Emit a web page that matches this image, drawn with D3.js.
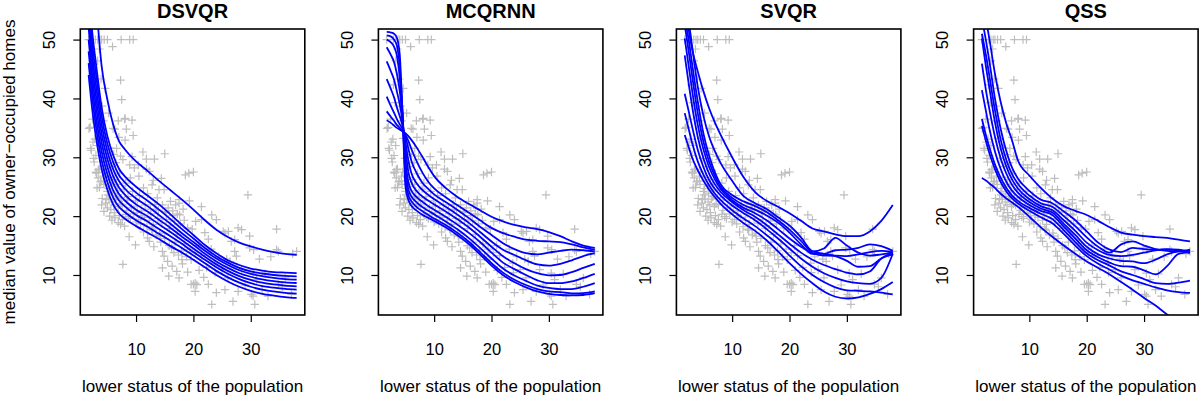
<!DOCTYPE html>
<html><head><meta charset="utf-8">
<script src="https://cdn.jsdelivr.net/npm/d3@7"></script>
<style>body{margin:0;background:#fff}svg{display:block}text{font-family:"Liberation Sans",Arial,Helvetica,sans-serif;fill:#000}</style>
</head><body><svg id="c" width="1200" height="399"></svg>
<script>
// ---------- data ----------
const panelTitles = ["DSVQR", "MCQRNN", "SVQR", "QSS"];
const xTicks = [10, 20, 30];
const yTicks = [10, 20, 30, 40, 50];
const xLabel = "lower status of the population";
const yLabel = "median value of owner\u2212occupied homes";

const scatterLstat = [1.73,2.9,3.3,3.7,4.0,4.45,5.0,7.4,8.9,9.5,5.9,3.6,7.3,7.5,3.3,3.9,4.6,2.9,4.1,3.2,5.2,
2.4,1.8,2.0,2.8,3.3,3.0,2.7,3.6,4.3,4.6,5.5,4.9,5.6,6.3,6.0,6.9,8.0,8.1,9.3,8.3,9.5,8.1,7.0,6.6,7.3,6.1,5.3,4.5,6.5,7.7,8.9,9.7,10.4,9.3,11.2,11.8,13.2,15.0,11.8,12.3,10.5,9.0,8.2,7.1,6.2,
3.6,4.1,4.7,4.8,5.6,5.1,5.9,6.4,6.8,7.4,7.9,8.6,9.4,9.9,10.6,11.3,12.0,12.8,13.7,14.0,14.9,14.4,13.0,16.0,16.9,17.5,17.5,18.6,19.2,20.0,19.3,18.2,17.2,15.6,14.6,13.3,12.5,11.6,10.9,10.2,9.2,8.4,7.6,6.9,6.2,5.4,7.1,7.6,8.0,8.8,9.9,7.7,
9.0,10.0,10.8,11.5,12.3,13.0,13.8,14.5,15.3,15.9,16.7,17.7,18.4,19.0,19.8,20.4,12.0,12.3,13.1,11.3,14.1,14.6,14.9,15.5,16.3,14.6,15.7,17.5,16.2,16.8,17.2,17.9,18.5,18.8,19.4,19.6,20.3,20.9,21.4,
21.4,21.4,23.2,24.0,22.0,22.6,23.1,23.7,24.4,25.2,25.5,26.1,26.6,27.2,28.4,27.8,29.8,29.8,30.5,27.2,27.5,25.8,26.4,28.4,30.4,31.0,29.5,34.5,34.8,34.5,38.0,37.3,34.8,
20.0,20.3,20.6,20.3,19.6,22.6,21.8,24.0,25.5,27.8,30.1,30.4,33.0,37.1,23.2,26.9,30.7,32.0,35.5,29.0,26.0,23.8,22.3,18.1,19.0,17.1,18.0,21.0,25.0,32.5,31.5,33.5,36.0,
3.1,3.8,4.3,5.0,5.7,6.6,2.2,2.6,3.4,4.4,5.2,6.7,7.2,8.4,10.2,11.0,12.6,13.5,15.1,16.4,17.6,15.8,14.2,12.9,
2.1,2.5,3.0,3.4,3.9,4.3,4.0,4.4,5.0,5.3,5.8,6.1,6.6,6.3,5.8,6.9,7.3,8.2,8.7,9.6,10.4,11.0,11.9,12.7,13.5,14.3,15.0,15.8,16.6,17.4,13.9,15.2,16.4,3.2];
const scatterMedv = [50,50,50,50,50,50,50,50,50,50,48.8,48.4,43.1,39.8,46.4,43.3,41.7,42.3,38.7,39.3,37.5,
36.5,34.9,35.1,33.1,32,30.3,29.2,28,36.2,33.2,31.6,29.8,28.4,34.8,34.9,36.2,36.5,36.6,36.3,34.8,33.7,32.9,33.4,31.5,30.2,30.5,26.6,27.5,29.1,29.6,28.7,28.2,28.7,30.1,30.9,29.7,29.7,30.6,28,27.6,26.8,26.5,25.6,27.2,26.2,
24.9,23,22.2,22.8,21.1,23.6,23.9,22.9,24.3,23.1,24.6,23.3,24.2,22.6,23.5,24.8,23.8,25.3,23.1,24.5,24.5,26.4,26.1,22.5,21.9,22.8,22.2,27,27.3,27.5,22.6,21.2,20.4,21.4,21.9,22,21.2,21.9,20.9,21.7,21.4,21,21.9,21.6,20.6,20,20.1,19.4,18.3,16.5,15.1,11.8,
19.6,19,18.7,19.8,19.3,18.6,19.6,18.8,19.4,18.4,19.2,18.7,19.3,18,17.8,19.1,16.3,15.7,14.8,17.3,17.1,14,13.2,12.3,11.5,11.2,9.8,9.5,14.6,15.6,16.9,14.1,15.3,13.1,14.4,12.6,13.8,15,13.3,
21.6,19.4,20.2,19.4,17.2,16.1,14.4,12,13.1,17.4,17.1,17.4,15.7,16,17.7,18,16.6,14.6,14.3,14,13.2,12.7,12.3,10.9,10.3,9.2,23.6,17.8,14,14.3,14,13.6,8.4,
8.4,8.6,8.35,7.2,8.4,8.4,9.6,7,7.5,7.2,6.7,6.4,6.4,6.7,5,5.5,5,7.5,8,8.3,9.5,10.4,11.3,11.9,10.5,10.6,12.6,10.8,10.9,10.2,12.7,13.1,9.5,
27.3,25.8,26,24.2,25.1,25.4,31.2,29.8,27.9,25.4,24.7,23.4,22.1,22.7,20.6,20.1,20.4,21.1,20.8,20.9,20.2,17.9,16.6,17.6,
31.5,32.6,27.5,26.5,25.9,26.8,21.9,20.8,21.4,22.9,22.4,21.9,23.3,19.7,19.3,18.9,18.6,20.3,19.9,20.4,19.4,20.1,18.2,17.8,16.8,15.6,16.2,15,13.8,13.4,21,20.6,20.1,24.8];

// DSVQR
const gridDSVQR = [1.73,2.5,3,4,5,6,7,8,10,12,14,16,18,20,22,24,26,28,30,32,34,36,38];
const curvesDSVQR = [
 [44,37,33.5,28,24.5,22,20.5,19.6,18.3,17.2,16.1,14.9,13.8,12.6,11.3,10,8.9,8,7.3,6.8,6.5,6.25,6.1],
 [46,39,35.3,29.5,25.8,23.2,21.6,20.7,19.3,18.2,17,15.8,14.6,13.3,12,10.7,9.6,8.7,8,7.5,7.2,6.95,6.83],
 [48,40.8,37,31,27.1,24.4,22.7,21.7,20.2,19.1,17.8,16.6,15.3,13.9,12.6,11.3,10.2,9.3,8.6,8.1,7.85,7.65,7.51],
 [50,42.6,38.8,32.5,28.4,25.6,23.8,22.7,21.1,20,18.6,17.3,15.9,14.5,13.1,11.8,10.7,9.8,9.15,8.7,8.4,8.2,8.07],
 [52,44.4,40.5,34,29.7,26.8,24.9,23.7,22,20.8,19.4,18,16.5,15.1,13.6,12.3,11.2,10.3,9.7,9.25,8.95,8.75,8.64],
 [54,46.2,42.3,35.5,31,28,26,24.7,23,21.7,20.2,18.7,17.1,15.6,14.1,12.8,11.7,10.8,10.2,9.8,9.5,9.3,9.2],
 [56,48,44.2,37,32.3,29.2,27,25.8,24,22.6,21.1,19.5,17.8,16.2,14.6,13.2,12.1,11.2,10.6,10.25,10,9.85,9.77],
 [58,50,46,38.5,33.6,30.4,28.1,26.8,25,23.5,22,20.3,18.5,16.8,15.1,13.7,12.5,11.7,11.1,10.75,10.5,10.4,10.3],
 [75,64,57,45.5,39.8,35.6,32.8,31.4,29.3,27.7,26.0,24.4,22.8,21.1,19.3,17.7,16.45,15.5,14.85,14.3,13.9,13.6,13.4]
];
// MCQRNN
const gridMCQRNN = [1.73,2.5,3,3.5,4,4.5,5,5.5,6,7,8,9,10,12,14,16,18,20,22,24,26,28,30,32,34,36,38];
const curvesMCQRNN = [
 [51.3,51.2,51.0,50.3,47.5,37,25,22.8,21.8,20.9,20.2,19.7,19.2,18.1,16.8,15.3,13.5,11.6,10.0,8.8,7.9,7.2,6.8,6.6,6.55,6.6,6.9],
 [50.7,50.5,50.0,49.0,45.5,37.5,26.5,23.6,22.6,21.5,20.8,20.2,19.6,18.5,17.2,15.7,13.9,12.0,10.4,9.2,8.3,7.6,7.2,7.1,6.85,6.9,7.2],
 [50.0,49.5,48.8,47.3,43.5,37,28,24.6,23.4,22.3,21.5,20.9,20.3,19.1,17.8,16.3,14.6,12.8,11.1,9.9,9.0,8.2,7.8,7.6,7.6,8.0,8.6],
 [48.7,47.3,46.2,44.2,41.3,36.5,29.5,25.8,24.4,23.2,22.4,21.7,21.1,19.9,18.6,17.2,15.6,13.8,12.1,11.0,10.0,9.1,8.6,8.6,8.9,9.5,10.2],
 [46.3,44.5,43.2,41.2,39,36,31.3,27.5,25.8,24.2,23.3,22.6,22.0,20.8,19.5,18.1,16.5,14.8,13.2,12.0,11.0,10.3,9.95,10.0,10.5,11.2,11.9],
 [43.3,41.5,40.2,38.5,37,35.3,32.5,29.5,27.4,25.5,24.4,23.6,22.9,21.6,20.3,18.9,17.3,15.7,14.3,13.4,12.5,11.8,11.6,11.9,12.5,13.2,13.7],
 [40.3,38.6,37.6,36.5,35.6,34.8,33.5,31.5,29.5,27.2,25.6,24.6,23.7,22.4,21.1,19.7,18.2,16.8,15.4,14.4,13.7,13.5,13.8,14.1,14.3,14.2,14.0],
 [37.8,36.8,36.2,35.5,35,34.5,33.8,32.8,31.5,29.2,27.3,25.8,24.7,23.2,21.9,20.6,19.3,18.0,17.1,16.5,16.0,15.8,15.7,15.6,15.2,14.7,14.3],
 [36.3,35.8,35.4,35,34.7,34.4,34.1,33.6,33,31.6,30,28.3,26.8,24.8,23.3,22.1,21,19.9,19.1,18.5,18.1,17.8,17.3,16.6,15.7,15.0,14.6]
];
// SVQR
const gridSVQR = [1.73,2.5,3,4,5,6,7,8,10,12,14,16,18,20,22,24,26,28,30,32,34,36,38];
const curvesSVQR = [
 [33.8,31.5,30,27.8,26,24.5,23.2,22.1,20.3,18.8,17.5,15.9,14,12,10.2,8.6,7.2,6.3,6.0,6.2,6.8,7.6,8.8],
 [37.5,34.5,32.5,29.3,27,25.2,23.8,22.7,21,19.6,18.3,16.8,15.2,13.3,11.5,10,8.8,7.9,7.4,7.3,7.2,7.0,6.7],
 [40.8,37.5,35.3,31.3,28.3,26.1,24.6,23.5,21.8,20.5,19.3,17.8,16.2,14.5,12.8,11.4,10.3,9.5,8.9,8.6,8.5,9.5,13.6],
 [47.3,42,38.8,33.5,29.8,27.2,25.4,24.1,22.4,21,19.9,18.5,16.9,15.3,13.8,12.6,11.7,11.0,10.4,10.1,10.6,12.8,13.7],
 [50.2,45,41.5,35.5,31.3,28.3,26.2,24.6,22.7,21.4,20.5,19.3,17.8,16.2,14.8,13.7,13.3,13.3,13.2,13.5,13.9,14.1,13.9],
 [52.5,47.5,44,37.5,32.6,29.2,26.8,25,23.1,21.9,21.1,20.1,18.9,17.2,15.2,13.6,13.6,14.2,14.3,14.6,15.2,14.9,14.1],
 [53.5,49.5,46,39.5,34,30.2,27.4,25.4,23.6,22.5,21.7,20.7,19.3,17.7,15.8,14,14.5,16.3,15.0,13.8,13.3,13.5,13.8],
 [54.5,52.5,49,42,37,33.5,31,29,26,23.4,22.2,21.2,19.8,18.4,16.4,14.0,13.6,13.2,12.4,11.4,11.5,12.8,13.5],
 [57,51.2,48.5,44.6,41.2,38.3,35.9,33.8,30,26.6,24.1,22.6,21.6,20.5,19.2,17.9,17.4,16.9,16.6,16.6,17.4,19.2,21.9]
];
// QSS
const gridQSS = [1.73,2.5,3,4,5,6,7,8,10,12,14,16,18,20,22,24,26,28,30,32,34,36,38];
const curvesQSS = [
 [26.5,26,25.6,24.8,23.8,23,22.3,21.6,19.9,18.1,16.5,15,13.6,12.3,11.2,10.1,8.8,7.5,6.1,4.8,3.3,1.9,0.5],
 [35.3,32.5,30.8,28,25.8,24.2,23,22.2,20.9,19.8,18.8,17,15,13.2,11.9,10.9,9.9,9.1,8.5,7.9,7.4,7.1,6.95],
 [36.5,33.5,31.8,28.8,26.5,24.8,23.5,22.6,21.4,20.4,19.5,17.6,15.6,13.7,12.5,11.6,10.6,10,9.3,8.6,8.5,8.7,9.05],
 [41.4,37.5,35,31,28,25.8,24.3,23.3,21.9,20.9,20.2,18.2,16.2,14.2,13,12.1,11.5,11.4,10.8,10.1,11.5,13.6,13.9],
 [45.9,41,38.3,33.5,29.8,27.2,25.3,24,22.4,21.3,20.6,18.7,16.8,14.8,13.5,12.8,12.4,12.3,12,12.6,13.5,14,14.1],
 [50.2,45,42,36,31.5,28.4,26.2,24.7,22.9,21.7,21,19.3,17.5,15.5,14.2,13.4,13.2,13.4,13.8,14.2,14.4,14.3,14],
 [51,47,44,38,33,29.5,27.1,25.5,23.5,22.2,21.6,20,18.3,16.4,14.8,13.8,15.2,15.7,15,14.4,14.1,14,14.3],
 [53.5,49.5,46.5,40,34.8,31,28.2,26.4,24.3,22.8,22.2,20.8,19.3,17.4,15.5,14.3,13.9,14.6,14.4,14.3,14.3,14.2,13.7],
 [57,53,50.3,44.2,39.4,35.7,32.8,29.5,26.9,24.8,23,21.7,20.9,20.2,19.2,18.1,17.2,16.85,16.6,16.45,16.3,16,15.7]
];

// ---------- drawing ----------
const svg = d3.select("#c");
const defs = svg.append("defs");
const panelLefts = [80.3, 378.4, 676.4, 973.6];
const plotW = 224.5, plotTop = 29, plotBottom = 315;
const grids = [gridDSVQR, gridMCQRNN, gridSVQR, gridQSS];
const curveSets = [curvesDSVQR, curvesMCQRNN, curvesSVQR, curvesQSS];
const y = d3.scaleLinear().domain([3.2, 51.8]).range([plotBottom, plotTop]);
const FONT = "Liberation Sans, Arial, sans-serif";

panelTitles.forEach((title, i) => {
  const L = panelLefts[i];
  const x = d3.scaleLinear().domain([0.28, 39.42]).range([L, L + plotW]);
  const g = svg.append("g");
  const cid = "clip" + i;
  defs.append("clipPath").attr("id", cid).append("rect")
    .attr("x", L).attr("y", plotTop).attr("width", plotW).attr("height", plotBottom - plotTop);
  const inner = g.append("g").attr("clip-path", `url(#${cid})`);

  // scatter (pch = 3)
  const s = 4.2;
  inner.append("path")
    .attr("d", scatterLstat.map((lx, k) => {
      const cx = x(lx), cy = y(scatterMedv[k]);
      return `M${cx - s},${cy}H${cx + s}M${cx},${cy - s}V${cy + s}`;
    }).join(""))
    .attr("stroke", "#bebebe").attr("stroke-width", 1.2).attr("fill", "none");

  // quantile curves
  const grid = grids[i];
  const line = d3.line().x((d, j) => x(grid[j])).y(d => y(d)).curve(d3.curveMonotoneX);
  inner.selectAll("path.q").data(curveSets[i]).enter().append("path")
    .attr("class", "q").attr("d", line)
    .attr("fill", "none").attr("stroke", "#0000ff").attr("stroke-width", 1.8);

  // x axis
  const xa = g.append("g").attr("transform", `translate(0,${plotBottom})`)
    .call(d3.axisBottom(x).tickValues(xTicks).tickSize(7).tickSizeOuter(0).tickPadding(21));
  xa.select(".domain").remove();
  xa.selectAll("line").attr("stroke", "#000").attr("stroke-width", 1.2);
  xa.selectAll("text").attr("font-size", 16.5).attr("font-family", FONT).attr("fill", "#000");

  // y axis (labels parallel to axis, as in R)
  const ya = g.append("g").attr("transform", `translate(${L},0)`)
    .call(d3.axisLeft(y).tickValues(yTicks).tickSize(7).tickSizeOuter(0));
  ya.select(".domain").remove();
  ya.selectAll("line").attr("stroke", "#000").attr("stroke-width", 1.2);
  ya.selectAll("text")
    .attr("x", 0).attr("y", -25.5).attr("dy", 0)
    .attr("transform", "rotate(-90)")
    .attr("text-anchor", "middle")
    .attr("font-size", 16.5).attr("font-family", FONT).attr("fill", "#000");

  // box
  g.append("rect").attr("x", L).attr("y", plotTop).attr("width", plotW).attr("height", plotBottom - plotTop)
    .attr("fill", "none").attr("stroke", "#000").attr("stroke-width", 1.6);

  // title
  g.append("text").attr("x", L + plotW / 2).attr("y", 18).attr("text-anchor", "middle")
    .attr("font-size", 20).attr("font-weight", "bold").text(title);

  // x label
  g.append("text").attr("x", L + plotW / 2).attr("y", 392).attr("text-anchor", "middle")
    .attr("font-size", 17).text(xLabel);

  if (i === 0) {
    g.append("text").attr("transform", `translate(14.5,${(plotTop + plotBottom) / 2}) rotate(-90)`)
      .attr("text-anchor", "middle").attr("font-size", 17).text(yLabel);
  }
});
</script></body></html>
